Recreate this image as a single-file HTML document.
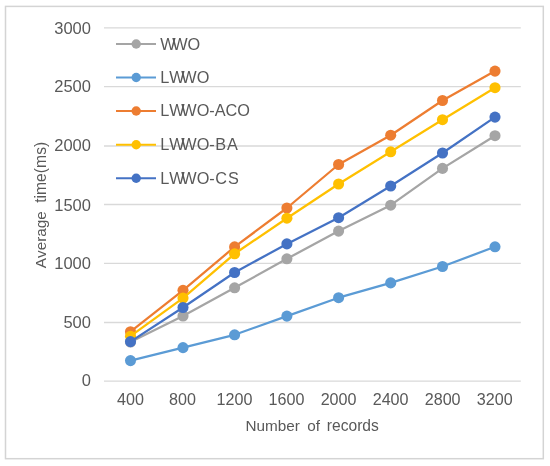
<!DOCTYPE html>
<html lang="en"><head><meta charset="utf-8"><title>Average time vs number of records</title>
<style>
html,body{margin:0;padding:0;background:#fff;}
body{width:550px;height:466px;overflow:hidden;}
svg{display:block;}
text{font-family:"Liberation Sans",Arial,sans-serif;fill:#595959;font-kerning:none;}
.t16{font-size:15.6px;}
.tt{font-size:15.3px;}
</style></head><body>
<svg width="550" height="466" viewBox="0 0 550 466">
<rect x="0" y="0" width="550" height="466" fill="#ffffff"/>
<rect x="5.5" y="6.4" width="537.8" height="452.3" fill="#ffffff" stroke="#d4d4d4" stroke-width="1.5"/>

<g stroke="#d9d9d9" stroke-width="1.3">
<line x1="104.0" y1="27.85" x2="520.8" y2="27.85"/>
<line x1="104.0" y1="86.70" x2="520.8" y2="86.70"/>
<line x1="104.0" y1="146.00" x2="520.8" y2="146.00"/>
<line x1="104.0" y1="204.50" x2="520.8" y2="204.50"/>
<line x1="104.0" y1="263.40" x2="520.8" y2="263.40"/>
<line x1="104.0" y1="322.50" x2="520.8" y2="322.50"/>
<line x1="104.0" y1="381.10" x2="520.8" y2="381.10"/>
</g>
<g class="t16" text-anchor="end">
<text transform="translate(91.0,34) scale(1.06,1)">3000</text>
<text transform="translate(91.0,92) scale(1.06,1)">2500</text>
<text transform="translate(91.0,151) scale(1.06,1)">2000</text>
<text transform="translate(91.0,211) scale(1.06,1)">1500</text>
<text transform="translate(91.0,269) scale(1.06,1)">1000</text>
<text transform="translate(91.0,328) scale(1.06,1)">500</text>
<text transform="translate(91.0,386) scale(1.06,1)">0</text>
</g>
<g class="t16" text-anchor="middle">
<text transform="translate(130.45,405) scale(1.035,1)">400</text>
<text transform="translate(182.48,405) scale(1.035,1)">800</text>
<text transform="translate(234.51,405) scale(1.035,1)">1200</text>
<text transform="translate(286.54,405) scale(1.035,1)">1600</text>
<text transform="translate(338.57,405) scale(1.035,1)">2000</text>
<text transform="translate(390.60,405) scale(1.035,1)">2400</text>
<text transform="translate(442.63,405) scale(1.035,1)">2800</text>
<text transform="translate(494.66,405) scale(1.035,1)">3200</text>
</g>
<text class="tt" y="431.2"><tspan x="245.5">Number</tspan> <tspan x="307.3">of</tspan> <tspan x="326.8" style="font-size:15.6px">records</tspan></text>
<text transform="translate(45.5,0) rotate(-90)" y="0" style="font-size:15.7px"><tspan x="-268.2" style="font-size:15.3px">Average</tspan> <tspan x="-202.8">time(ms)</tspan></text>
<g fill="#A5A5A5" stroke="none"><polyline points="130.50,342.00 183.00,316.00 234.60,287.80 286.90,258.80 338.60,231.10 390.70,205.20 442.50,168.40 495.00,135.70" fill="none" stroke="#A5A5A5" stroke-width="2.25" stroke-linejoin="round" stroke-linecap="round"/>
<circle cx="130.50" cy="342.00" r="5.55"/>
<circle cx="183.00" cy="316.00" r="5.55"/>
<circle cx="234.60" cy="287.80" r="5.55"/>
<circle cx="286.90" cy="258.80" r="5.55"/>
<circle cx="338.60" cy="231.10" r="5.55"/>
<circle cx="390.70" cy="205.20" r="5.55"/>
<circle cx="442.50" cy="168.40" r="5.55"/>
<circle cx="495.00" cy="135.70" r="5.55"/>
</g>
<g fill="#5B9BD5" stroke="none"><polyline points="130.50,360.60 183.00,347.60 234.60,334.80 286.90,316.10 338.60,297.70 390.70,282.90 442.50,266.50 495.00,246.80" fill="none" stroke="#5B9BD5" stroke-width="2.25" stroke-linejoin="round" stroke-linecap="round"/>
<circle cx="130.50" cy="360.60" r="5.55"/>
<circle cx="183.00" cy="347.60" r="5.55"/>
<circle cx="234.60" cy="334.80" r="5.55"/>
<circle cx="286.90" cy="316.10" r="5.55"/>
<circle cx="338.60" cy="297.70" r="5.55"/>
<circle cx="390.70" cy="282.90" r="5.55"/>
<circle cx="442.50" cy="266.50" r="5.55"/>
<circle cx="495.00" cy="246.80" r="5.55"/>
</g>
<g fill="#ED7D31" stroke="none"><polyline points="130.50,331.70 183.00,290.30 234.60,246.90 286.90,208.00 338.60,164.50 390.70,135.20 442.50,100.50 495.00,71.10" fill="none" stroke="#ED7D31" stroke-width="2.25" stroke-linejoin="round" stroke-linecap="round"/>
<circle cx="130.50" cy="331.70" r="5.55"/>
<circle cx="183.00" cy="290.30" r="5.55"/>
<circle cx="234.60" cy="246.90" r="5.55"/>
<circle cx="286.90" cy="208.00" r="5.55"/>
<circle cx="338.60" cy="164.50" r="5.55"/>
<circle cx="390.70" cy="135.20" r="5.55"/>
<circle cx="442.50" cy="100.50" r="5.55"/>
<circle cx="495.00" cy="71.10" r="5.55"/>
</g>
<g fill="#FFC000" stroke="none"><polyline points="130.50,336.20 183.00,298.10 234.60,253.80 286.90,218.20 338.60,184.00 390.70,151.80 442.50,119.70 495.00,87.70" fill="none" stroke="#FFC000" stroke-width="2.25" stroke-linejoin="round" stroke-linecap="round"/>
<circle cx="130.50" cy="336.20" r="5.55"/>
<circle cx="183.00" cy="298.10" r="5.55"/>
<circle cx="234.60" cy="253.80" r="5.55"/>
<circle cx="286.90" cy="218.20" r="5.55"/>
<circle cx="338.60" cy="184.00" r="5.55"/>
<circle cx="390.70" cy="151.80" r="5.55"/>
<circle cx="442.50" cy="119.70" r="5.55"/>
<circle cx="495.00" cy="87.70" r="5.55"/>
</g>
<g fill="#4472C4" stroke="none"><polyline points="130.50,341.60 183.00,307.50 234.60,272.50 286.90,243.90 338.60,217.70 390.70,186.00 442.50,153.00 495.00,117.10" fill="none" stroke="#4472C4" stroke-width="2.25" stroke-linejoin="round" stroke-linecap="round"/>
<circle cx="130.50" cy="341.60" r="5.55"/>
<circle cx="183.00" cy="307.50" r="5.55"/>
<circle cx="234.60" cy="272.50" r="5.55"/>
<circle cx="286.90" cy="243.90" r="5.55"/>
<circle cx="338.60" cy="217.70" r="5.55"/>
<circle cx="390.70" cy="186.00" r="5.55"/>
<circle cx="442.50" cy="153.00" r="5.55"/>
<circle cx="495.00" cy="117.10" r="5.55"/>
</g>
<line x1="116" y1="44.0" x2="156" y2="44.0" stroke="#A5A5A5" stroke-width="1.9"/><circle cx="136.2" cy="44.0" r="4.7" fill="#A5A5A5"/>
<text class="t16" transform="translate(160.2,50) scale(1.045,1)">W<tspan dx="-3.2">W</tspan>O</text>
<line x1="116" y1="77.5" x2="156" y2="77.5" stroke="#5B9BD5" stroke-width="1.9"/><circle cx="136.2" cy="77.5" r="4.7" fill="#5B9BD5"/>
<text class="t16" transform="translate(160.2,83) scale(1.045,1)">LW<tspan dx="-3.2">W</tspan>O</text>
<line x1="116" y1="111.0" x2="156" y2="111.0" stroke="#ED7D31" stroke-width="1.9"/><circle cx="136.2" cy="111.0" r="4.7" fill="#ED7D31"/>
<text class="t16" transform="translate(160.2,116) scale(1.045,1)">LW<tspan dx="-3.2">W</tspan>O-ACO</text>
<line x1="116" y1="144.7" x2="156" y2="144.7" stroke="#FFC000" stroke-width="1.9"/><circle cx="136.2" cy="144.7" r="4.7" fill="#FFC000"/>
<text class="t16" transform="translate(160.2,150) scale(1.045,1)">LW<tspan dx="-3.2">W</tspan>O-<tspan dx="0.6">B</tspan><tspan dx="0.7">A</tspan></text>
<line x1="116" y1="178.2" x2="156" y2="178.2" stroke="#4472C4" stroke-width="1.9"/><circle cx="136.2" cy="178.2" r="4.7" fill="#4472C4"/>
<text class="t16" transform="translate(160.2,184) scale(1.045,1)">LW<tspan dx="-3.2">W</tspan>O-<tspan dx="0.6">C</tspan><tspan dx="0.7">S</tspan></text>
</svg></body></html>
